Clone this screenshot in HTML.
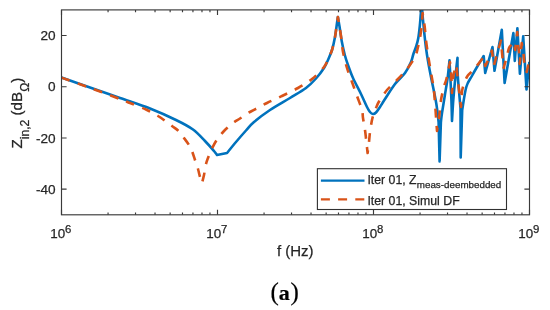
<!DOCTYPE html>
<html><head><meta charset="utf-8"><title>Figure (a)</title>
<style>
html,body{margin:0;padding:0;background:#fff;}
body{width:550px;height:310px;overflow:hidden;position:relative;font-family:"Liberation Sans",sans-serif;}
svg{position:absolute;left:0;top:0;display:block;}
svg text{font-family:"Liberation Sans",sans-serif;fill:#262626;stroke:#262626;stroke-width:0.25px;}
svg text.cap{font-family:"Liberation Serif",serif;fill:#000;stroke:#000;stroke-width:0.2px;}
</style></head><body>
<svg width="550" height="310" viewBox="0 0 550 310">
<rect x="0" y="0" width="550" height="310" fill="#fff"/>
<defs><clipPath id="ax"><rect x="61.5" y="9.9" width="468.0" height="204.9"/></clipPath></defs>
<g clip-path="url(#ax)" fill="none" stroke-linejoin="round">
<path d="M61.50 77.60 C66.25 79.27 80.25 84.20 90.00 87.60 C99.75 91.00 110.00 94.52 120.00 98.00 C130.00 101.48 140.67 104.83 150.00 108.50 C159.33 112.17 168.83 116.50 176.00 120.00 C183.17 123.50 188.17 126.00 193.00 129.50 C197.83 133.00 201.50 137.42 205.00 141.00 C208.50 144.58 212.00 148.67 214.00 151.00 C216.00 153.33 216.50 154.33 217.00 155.00 L227.00 153.00 C228.50 151.17 232.83 145.75 236.00 142.00 C239.17 138.25 243.00 133.83 246.00 130.50 C249.00 127.17 250.00 125.42 254.00 122.00 C258.00 118.58 264.00 114.00 270.00 110.00 C276.00 106.00 284.00 101.67 290.00 98.00 C296.00 94.33 301.67 91.25 306.00 88.00 C310.33 84.75 313.00 81.83 316.00 78.50 C319.00 75.17 322.00 71.08 324.00 68.00 C326.00 64.92 326.67 63.00 328.00 60.00 C329.33 57.00 330.83 53.83 332.00 50.00 C333.17 46.17 334.17 41.50 335.00 37.00 C335.83 32.50 336.52 26.33 337.00 23.00 C337.48 19.67 337.75 18.00 337.90 17.00 C338.18 18.67 338.97 23.00 339.60 27.00 C340.23 31.00 340.83 36.33 341.70 41.00 C342.57 45.67 343.75 51.00 344.80 55.00 C345.85 59.00 346.63 61.17 348.00 65.00 C349.37 68.83 350.83 73.17 353.00 78.00 C355.17 82.83 358.67 89.17 361.00 94.00 C363.33 98.83 365.50 104.00 367.00 107.00 C368.50 110.00 369.00 110.83 370.00 112.00 C371.00 113.17 372.00 113.92 373.00 114.00 C374.00 114.08 374.83 113.67 376.00 112.50 C377.17 111.33 378.50 109.25 380.00 107.00 C381.50 104.75 382.50 102.83 385.00 99.00 C387.50 95.17 391.67 88.33 395.00 84.00 C398.33 79.67 402.33 76.67 405.00 73.00 C407.67 69.33 409.60 65.17 411.00 62.00 C412.40 58.83 412.52 56.67 413.40 54.00 C414.28 51.33 415.48 48.67 416.30 46.00 C417.12 43.33 417.72 41.33 418.30 38.00 C418.88 34.67 419.35 30.33 419.80 26.00 C420.25 21.67 420.63 15.00 421.00 12.00 C421.37 9.00 421.83 8.67 422.00 8.00 C422.17 10.00 422.60 15.67 423.00 20.00 C423.40 24.33 423.90 29.33 424.40 34.00 C424.90 38.67 425.40 43.50 426.00 48.00 C426.60 52.50 427.17 56.17 428.00 61.00 C428.83 65.83 429.63 70.00 431.00 77.00 C432.37 84.00 434.93 95.50 436.20 103.00 C437.47 110.50 438.20 118.83 438.60 122.00 L439.60 161.40 L440.90 122.00 C441.08 120.50 441.33 117.50 442.00 113.00 C442.67 108.50 443.97 100.83 444.90 95.00 C445.83 89.17 446.83 83.77 447.60 78.00 C448.37 72.23 449.18 63.33 449.50 60.40 C449.63 63.00 449.98 69.40 450.30 76.00 C450.62 82.60 451.12 92.50 451.40 100.00 C451.68 107.50 451.90 117.50 452.00 121.00 C452.22 117.50 452.72 107.50 453.30 100.00 C453.88 92.50 454.80 83.03 455.50 76.00 C456.20 68.97 457.17 60.83 457.50 57.80 C457.55 60.83 457.30 67.63 457.80 76.00 C458.30 84.37 460.05 102.67 460.50 108.00 L460.70 157.50 L462.20 110.00 C462.88 106.17 464.68 92.67 466.30 87.00 C467.92 81.33 470.12 79.33 471.90 76.00 C473.68 72.67 475.03 70.33 477.00 67.00 C478.97 63.67 482.58 57.83 483.70 56.00 L485.20 73.00 L492.50 47.00 L494.50 70.80 L501.80 29.80 L504.60 83.00 L513.40 33.00 L514.80 61.00 L517.40 28.20 L519.90 73.80 L523.20 36.40 L526.50 89.50 L529.40 62.00" stroke="#0072bd" stroke-width="2.6"/>
<path d="M61.50 77.60 C66.25 79.30 80.25 84.23 90.00 87.80 C99.75 91.37 113.33 96.47 120.00 99.00 C126.67 101.53 125.67 101.25 130.00 103.00 C134.33 104.75 141.33 107.33 146.00 109.50 C150.67 111.67 155.00 114.25 158.00 116.00 C161.00 117.75 161.67 118.33 164.00 120.00 C166.33 121.67 169.67 124.25 172.00 126.00 C174.33 127.75 176.00 128.50 178.00 130.50 C180.00 132.50 182.17 135.58 184.00 138.00 C185.83 140.42 187.67 142.83 189.00 145.00 C190.33 147.17 191.00 148.50 192.00 151.00 C193.00 153.50 194.00 157.00 195.00 160.00 C196.00 163.00 197.17 166.17 198.00 169.00 C198.83 171.83 199.33 174.67 200.00 177.00 C200.67 179.33 201.67 182.00 202.00 183.00 C202.33 181.67 203.33 178.17 204.00 175.00 C204.67 171.83 205.33 166.83 206.00 164.00 C206.67 161.17 207.00 160.58 208.00 158.00 C209.00 155.42 210.50 151.58 212.00 148.50 C213.50 145.42 215.00 142.42 217.00 139.50 C219.00 136.58 221.33 133.75 224.00 131.00 C226.67 128.25 230.33 125.08 233.00 123.00 C235.67 120.92 237.50 120.17 240.00 118.50 C242.50 116.83 245.50 114.52 248.00 113.00 C250.50 111.48 251.83 111.07 255.00 109.40 C258.17 107.73 262.50 105.23 267.00 103.00 C271.50 100.77 276.83 98.50 282.00 96.00 C287.17 93.50 293.00 90.83 298.00 88.00 C303.00 85.17 307.67 82.50 312.00 79.00 C316.33 75.50 321.33 70.33 324.00 67.00 C326.67 63.67 326.67 61.83 328.00 59.00 C329.33 56.17 330.83 53.67 332.00 50.00 C333.17 46.33 334.17 41.50 335.00 37.00 C335.83 32.50 336.52 26.33 337.00 23.00 C337.48 19.67 337.75 18.00 337.90 17.00 C338.18 18.67 338.97 23.00 339.60 27.00 C340.23 31.00 341.13 36.83 341.70 41.00 C342.27 45.17 342.12 47.50 343.00 52.00 C343.88 56.50 345.50 63.00 347.00 68.00 C348.50 73.00 350.33 77.33 352.00 82.00 C353.67 86.67 355.33 91.33 357.00 96.00 C358.67 100.67 361.00 106.33 362.00 110.00 C363.00 113.67 362.50 114.67 363.00 118.00 C363.50 121.33 364.43 126.00 365.00 130.00 C365.57 134.00 365.97 138.17 366.40 142.00 C366.83 145.83 367.40 151.17 367.60 153.00 C367.83 151.17 368.60 145.50 369.00 142.00 C369.40 138.50 369.57 135.33 370.00 132.00 C370.43 128.67 371.10 124.67 371.60 122.00 C372.10 119.33 372.27 118.33 373.00 116.00 C373.73 113.67 375.00 110.42 376.00 108.00 C377.00 105.58 377.17 104.50 379.00 101.50 C380.83 98.50 384.00 93.58 387.00 90.00 C390.00 86.42 393.67 83.50 397.00 80.00 C400.33 76.50 404.00 72.83 407.00 69.00 C410.00 65.17 413.17 60.67 415.00 57.00 C416.83 53.33 417.17 50.17 418.00 47.00 C418.83 43.83 419.40 41.50 420.00 38.00 C420.60 34.50 421.17 30.17 421.60 26.00 C422.03 21.83 422.43 15.17 422.60 13.00 C422.93 15.17 424.03 21.50 424.60 26.00 C425.17 30.50 425.50 35.67 426.00 40.00 C426.50 44.33 427.10 48.50 427.60 52.00 C428.10 55.50 428.28 56.70 429.00 61.00 C429.72 65.30 431.03 72.42 431.90 77.80 C432.77 83.18 433.35 84.43 434.20 93.30 C435.05 102.17 436.53 124.72 437.00 131.00 C437.37 128.60 438.53 121.77 439.20 116.60 C439.87 111.43 440.17 105.10 441.00 100.00 C441.83 94.90 443.28 89.55 444.20 86.00 C445.12 82.45 445.53 82.70 446.50 78.70 C447.47 74.70 449.42 64.78 450.00 62.00 C450.25 65.08 451.17 75.33 451.50 80.50 C451.83 85.67 451.92 90.92 452.00 93.00 C452.25 90.10 452.95 79.70 453.50 75.60 C454.05 71.50 454.83 70.17 455.30 68.40 C455.77 66.63 456.13 65.57 456.30 65.00 C456.63 68.05 457.60 76.97 458.30 83.30 C459.00 89.63 460.05 99.05 460.50 103.00 C460.95 106.95 460.92 106.33 461.00 107.00 C461.15 104.57 461.45 96.13 461.90 92.40 C462.35 88.67 462.77 87.33 463.70 84.60 C464.63 81.87 465.82 78.52 467.50 76.00 C469.18 73.48 471.47 72.20 473.80 69.50 C476.13 66.80 479.85 61.88 481.50 59.80 C483.15 57.72 483.33 57.47 483.70 57.00 L485.20 66.00 C485.58 65.23 486.38 63.98 487.50 61.40 C488.62 58.82 491.17 52.32 491.90 50.50 L494.00 65.00 C494.20 64.32 494.05 64.98 495.20 60.90 C496.35 56.82 499.95 43.90 500.90 40.50 C501.23 44.08 502.42 57.42 502.90 62.00 C503.38 66.58 503.65 67.00 503.80 68.00 C503.93 67.42 504.08 66.35 504.60 64.50 C505.12 62.65 506.15 59.68 506.90 56.90 C507.65 54.12 507.95 50.28 509.10 47.80 C510.25 45.32 513.02 42.97 513.80 42.00 L515.20 50.00 L517.30 32.00 C517.42 34.00 517.67 40.33 518.00 44.00 C518.33 47.67 519.02 50.67 519.30 54.00 C519.58 57.33 519.63 62.33 519.70 64.00 L521.70 43.00 C521.97 44.50 522.85 48.83 523.30 52.00 C523.75 55.17 523.83 58.67 524.40 62.00 C524.97 65.33 526.32 70.33 526.70 72.00 L529.20 61.00" stroke="#d95319" stroke-width="2.6" stroke-dasharray="8.8 8.4"/>
</g>
<g stroke="#3a3a3a" stroke-width="1.15" fill="none"><path d="M61.50 214.80v-5.1M61.50 9.90v5.1"/><path d="M108.06 214.80v-2.4M108.06 9.90v2.4"/><path d="M135.53 214.80v-2.4M135.53 9.90v2.4"/><path d="M155.02 214.80v-2.4M155.02 9.90v2.4"/><path d="M170.14 214.80v-2.4M170.14 9.90v2.4"/><path d="M182.49 214.80v-2.4M182.49 9.90v2.4"/><path d="M192.94 214.80v-2.4M192.94 9.90v2.4"/><path d="M201.98 214.80v-2.4M201.98 9.90v2.4"/><path d="M209.96 214.80v-2.4M209.96 9.90v2.4"/><path d="M217.50 214.80v-5.1M217.50 9.90v5.1"/><path d="M264.06 214.80v-2.4M264.06 9.90v2.4"/><path d="M291.53 214.80v-2.4M291.53 9.90v2.4"/><path d="M311.02 214.80v-2.4M311.02 9.90v2.4"/><path d="M326.14 214.80v-2.4M326.14 9.90v2.4"/><path d="M338.49 214.80v-2.4M338.49 9.90v2.4"/><path d="M348.94 214.80v-2.4M348.94 9.90v2.4"/><path d="M357.98 214.80v-2.4M357.98 9.90v2.4"/><path d="M365.96 214.80v-2.4M365.96 9.90v2.4"/><path d="M373.50 214.80v-5.1M373.50 9.90v5.1"/><path d="M420.06 214.80v-2.4M420.06 9.90v2.4"/><path d="M447.53 214.80v-2.4M447.53 9.90v2.4"/><path d="M467.02 214.80v-2.4M467.02 9.90v2.4"/><path d="M482.14 214.80v-2.4M482.14 9.90v2.4"/><path d="M494.49 214.80v-2.4M494.49 9.90v2.4"/><path d="M504.94 214.80v-2.4M504.94 9.90v2.4"/><path d="M513.98 214.80v-2.4M513.98 9.90v2.4"/><path d="M521.96 214.80v-2.4M521.96 9.90v2.4"/><path d="M529.50 214.80v-5.1M529.50 9.90v5.1"/><path d="M61.50 35.51h5.1M529.50 35.51h-5.1"/><path d="M61.50 86.74h5.1M529.50 86.74h-5.1"/><path d="M61.50 137.96h5.1M529.50 137.96h-5.1"/><path d="M61.50 189.19h5.1M529.50 189.19h-5.1"/>
<rect x="61.5" y="9.9" width="468.0" height="204.9"/>
</g>
<g><text x="65.20" y="238.4" text-anchor="end" font-size="13.4">10</text><text x="65.10" y="232.6" font-size="11.4">6</text><text x="221.20" y="238.4" text-anchor="end" font-size="13.4">10</text><text x="221.10" y="232.6" font-size="11.4">7</text><text x="377.20" y="238.4" text-anchor="end" font-size="13.4">10</text><text x="377.10" y="232.6" font-size="11.4">8</text><text x="533.20" y="238.4" text-anchor="end" font-size="13.4">10</text><text x="533.10" y="232.6" font-size="11.4">9</text></g>
<g><text x="55.6" y="40.11" text-anchor="end" font-size="13.6">20</text><text x="55.6" y="91.34" text-anchor="end" font-size="13.6">0</text><text x="55.6" y="142.56" text-anchor="end" font-size="13.6">-20</text><text x="55.6" y="193.79" text-anchor="end" font-size="13.6">-40</text></g>
<text x="295.3" y="256.3" text-anchor="middle" font-size="15">f (Hz)</text>
<text transform="translate(22.4 148.6) rotate(-90)" font-size="15.2">Z<tspan font-size="12.2" dy="6.5">in,2</tspan><tspan dy="-6.5"> (dB</tspan><tspan font-size="12.2" dy="6.5">&#937;</tspan><tspan dy="-6.5">)</tspan></text>
<g>
<rect x="317.4" y="168.7" width="189.1" height="40.8" fill="#fff" stroke="#303030" stroke-width="1.1"/>
<path d="M320.9 180.6H364.5" stroke="#0072bd" stroke-width="2.3"/>
<path d="M320.9 199.4H364.5" stroke="#d95319" stroke-width="2.3" stroke-dasharray="9 8.2"/>
<text x="367.4" y="183.7" font-size="12.3">Iter 01, Z<tspan font-size="9.8" dy="4.6" dx="0.2">meas-deembedded</tspan></text>
<text x="367.4" y="204.6" font-size="12.3">Iter 01, Simul DF</text>
</g>
<text class="cap" x="270.6" y="300" font-size="25">(</text><text class="cap" x="278.8" y="299.5" font-size="22" font-weight="bold">a</text><text class="cap" x="290.4" y="300" font-size="25">)</text>
</svg>
</body></html>
